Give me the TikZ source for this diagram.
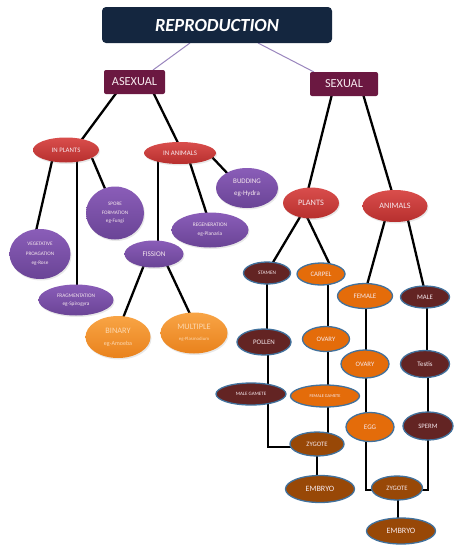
\documentclass[tikz,border=0pt]{standalone}
\usepackage{fontspec}
\setmainfont{Carlito}
\usetikzlibrary{shapes.geometric,calc,backgrounds,shadows}
\definecolor{navy}{HTML}{14263F}
\definecolor{wine}{HTML}{6B1841}
\definecolor{toplink}{HTML}{9A86BE}
\definecolor{redtop}{HTML}{D94E4C}
\definecolor{redbot}{HTML}{B72F2E}
\definecolor{purtop}{HTML}{8A5DB8}
\definecolor{purbot}{HTML}{6A4496}
\definecolor{ortop}{HTML}{F8A445}
\definecolor{orbot}{HTML}{E9821C}
\definecolor{orflat}{HTML}{E46C0A}
\definecolor{maroon}{HTML}{632423}
\definecolor{brownz}{HTML}{984807}
\definecolor{rim}{HTML}{41719C}
\definecolor{paletext}{HTML}{F6E9EE}
\definecolor{ortext}{HTML}{FCD8B0}
\tikzset{
  fs/.style 2 args={font=\fontsize{#1}{#2}\selectfont},
  sz/.style 2 args={minimum width=#1pt, minimum height=#2pt},
  softshadow/.style={drop shadow={opacity=0.18, shadow xshift=1pt, shadow yshift=-1.5pt}},
  el/.style={ellipse, inner sep=0pt, align=center, text=paletext},
  redel/.style={el, softshadow, top color=redtop, bottom color=redbot},
  purel/.style={el, softshadow, top color=purtop, bottom color=purbot},
  orel/.style={el, softshadow, top color=ortop, bottom color=orbot, text=ortext},
  rorel/.style={el, fill=orflat, draw=rim, line width=1.3pt},
  marel/.style={el, fill=maroon, draw=rim, line width=1.3pt},
  brel/.style={el, fill=brownz, draw=rim, line width=1.3pt},
  wbox/.style={rectangle, rounded corners=2pt, fill=wine, text=paletext, inner sep=0pt},
  link/.style={line width=2.3pt, black},
  tlink/.style={line width=1pt, toplink}
}
\begin{document}
\begin{tikzpicture}[x=1pt,y=-1pt]
\useasboundingbox (0,0) rectangle (460,552);
% top
\node[rectangle, rounded corners=4pt, fill=navy, text=white, sz={230}{36}, inner sep=0pt,
  font=\fontsize{18.5}{20}\selectfont\bfseries\itshape] (rep) at (217,25) {REPRODUCTION};
\node[wbox, sz={61}{24}, fs={12.3}{14}] (asx) at (134.5,82) {ASEXUAL};
\node[wbox, sz={68}{24}, fs={12.3}{14}] (sx) at (344,84) {SEXUAL};
% asexual side
\node[redel, sz={66}{25}, fs={6.8}{8}] (ipl) at (66,150) {IN PLANTS};
\node[redel, sz={72}{22}, fs={6.9}{8}] (ian) at (180,153) {IN ANIMALS};
\node[purel, sz={62}{40}, fs={7}{12}] (bud) at (247,188) {BUDDING\\eg-Hydra};
\node[purel, sz={58}{53}, fs={5.2}{8.5}] (spore) at (115,213) {SPORE\\FORMATION\\eg-Fungi};
\node[purel, sz={61}{50}, fs={5.2}{9.5}] (veg) at (40,254) {VEGETATIVE\\PROAGATION\\eg-Rose};
\node[purel, sz={77}{35}, fs={5.4}{9}] (regen) at (210,230) {REGENERATION\\eg-Planaria};
\node[purel, sz={59}{27}, fs={7.2}{8}] (fis) at (154,254) {FISSION};
\node[purel, sz={75}{31}, fs={5.3}{8.5}] (frag) at (76,300) {FRAGMENTATION\\eg-Spirogyra};
\node[orel, sz={65}{42}, fs={8.3}{12}] (bin) at (118,337) {BINARY\\{\fontsize{6}{7}\selectfont eg-Amoeba}};
\node[orel, sz={67}{41}, fs={8.3}{11}] (mult) at (194,333) {MULTIPLE\\{\fontsize{4.8}{6}\selectfont eg-Plasmodium}};
% sexual side
\node[redel, sz={56}{31}, fs={8.3}{9}] (pl) at (311,203) {PLANTS};
\node[redel, sz={65}{32}, fs={8.2}{9}] (an) at (395,206) {ANIMALS};
\node[marel, sz={47}{22}, fs={5.2}{6}] (stamen) at (267,273) {STAMEN};
\node[rorel, sz={48}{22}, fs={6.8}{8}] (carpel) at (321,274) {CARPEL};
\node[rorel, sz={55}{25}, fs={6.9}{8}] (female) at (365,296) {FEMALE};
\node[marel, sz={49}{22}, fs={6.8}{8}] (male) at (425,297) {MALE};
\node[marel, sz={54}{26}, fs={6.9}{8}] (pollen) at (264,342) {POLLEN};
\node[rorel, sz={47}{25}, fs={6.7}{8}] (ovp) at (326,339) {OVARY};
\node[rorel, sz={48}{28}, fs={6.7}{8}] (ova) at (365,364) {OVARY};
\node[marel, sz={49}{27}, fs={6.9}{8}] (testis) at (425,364) {Testis};
\node[marel, sz={70}{22}, fs={5}{6}] (mg) at (251,394) {MALE GAMETE};
\node[rorel, sz={69}{22}, fs={4.4}{5}] (fg) at (325,396) {FEMALE GAMETE};
\node[rorel, sz={48}{29}, fs={7}{8}] (egg) at (370,427) {EGG};
\node[marel, sz={50}{28}, fs={6.7}{8}] (sperm) at (428,426) {SPERM};
\node[brel, sz={54}{24}, fs={6.7}{8}] (zp) at (317,444) {ZYGOTE};
\node[brel, sz={69}{27}, fs={8.1}{9}] (ep) at (320,489) {EMBRYO};
\node[brel, sz={51}{24}, fs={6.7}{8}] (za) at (397,488) {ZYGOTE};
\node[brel, sz={69}{26}, fs={8.1}{9}] (ea) at (401,531) {EMBRYO};
\begin{scope}[on background layer]
\fill[white] (0,0) rectangle (460,552);
\draw[tlink] ($(rep)+(-27,18)$) -- ($(asx)+(18.5,-12)$);
\draw[tlink] ($(rep)+(41,18)$) -- ($(sx)+(-30,-12)$);
\draw[link] ($(asx)+(-17.5,10)$) -- ($(ipl)+(14,-8)$);
\draw[link] ($(asx)+(18.5,10)$) -- ($(ian)+(-1,-8)$);
\draw[link] ($(sx)+(-12,10)$) -- ($(pl)+(-3,-13)$);
\draw[link] ($(sx)+(19,10)$) -- ($(an)+(-3,-14)$);
\draw[link] ($(ipl)+(-14,11)$) -- ($(veg)+(-4,-23)$);
\draw[link] ($(frag.center |- ipl.center)+(1,0)$) -- ($(frag.center)+(1,0)$);
\draw[link] ($(ipl)+(26,8)$) -- ($(spore)+(-9,-22)$);
\draw[link] ($(fis.center |- ian.center)+(4,0)$) -- ($(fis.center)+(4,0)$);
\draw[link] ($(ian)+(10,10)$) -- ($(regen)+(-3,-15)$);
\draw[link] ($(ian)+(31,3)$) -- ($(bud)+(-19,-14)$);
\draw[link] ($(fis)+(-10,11)$) -- ($(bin)+(5,-19)$);
\draw[link] ($(fis)+(13,11)$) -- ($(mult)+(-4,-19)$);
\draw[link] ($(pl)+(-11,14)$) -- ($(stamen)+(5,-9)$);
\draw[link] ($(pl)+(-4,14)$) -- ($(carpel)+(9,-9)$);
\draw[link] ($(an)+(-10,14)$) -- ($(female)+(2,-11)$);
\draw[link] ($(an)+(13,14)$) -- ($(male)+(-1,-9)$);
\draw[link] (stamen.center) -- (stamen.center |- pollen.center);
\draw[link] ($(carpel.center)+(7,0)$) -- ($(carpel.center |- ovp.center)+(7,0)$);
\draw[link] ($(female.center)+(1,0)$) -- ($(female.center |- ova.center)+(1,0)$);
\draw[link] ($(male.center)+(2,0)$) -- ($(male.center |- testis.center)+(2,0)$);
\draw[link] ($(pollen.center)+(4,0)$) -- ($(pollen.center |- mg.center)+(4,0)$);
\draw[link] ($(ovp.center)+(2,0)$) -- ($(ovp.center |- fg.center)+(2,0)$);
\draw[link] ($(ova.center)+(1,0)$) -- ($(ova.center |- egg.center)+(1,0)$);
\draw[link] ($(testis.center)+(3,0)$) -- ($(testis.center |- sperm.center)+(3,0)$);
\draw[link] ($(mg.center)+(17,0)$) |- ($(zp.center)+(-10,3)$);
\draw[link] ($(fg.center)+(3,0)$) -- ($(fg.center |- zp.center)+(3,0)$);
\draw[link] (zp.center) -- (zp.center |- ep.center);
\draw[link] ($(egg.center)+(-4,0)$) |- ($(za.center)+(-10,2)$);
\draw[link] (sperm.center) |- ($(za.center)+(10,2)$);
\draw[link] ($(za.center)+(1,0)$) -- ($(za.center |- ea.center)+(1,0)$);
\end{scope}
\end{tikzpicture}
\end{document}
